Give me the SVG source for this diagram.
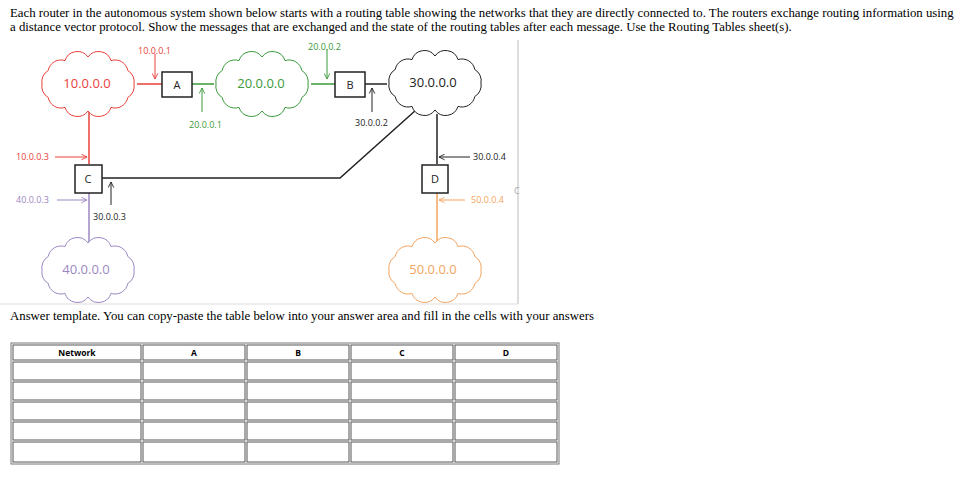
<svg xmlns="http://www.w3.org/2000/svg" width="966" height="489" viewBox="0 0 966 489">
<style>
.p{font-family:"Liberation Serif",serif;font-size:12.8px;fill:#000}
.l{font-family:"Open Sans","DejaVu Sans",sans-serif;font-size:9px}
.c{font-family:"Open Sans","DejaVu Sans",sans-serif;font-size:13px;text-anchor:middle}
.box{fill:#fff;stroke:#222;stroke-width:1.5}
.bt{font-family:"Open Sans","DejaVu Sans",sans-serif;font-size:11px;text-anchor:middle;fill:#222}
.cell{fill:none;stroke:#555;stroke-width:1}
.th{font-family:"Open Sans","DejaVu Sans",sans-serif;font-size:8.5px;font-weight:bold;text-anchor:middle}
</style>
<defs>
<path id="cloud" d="M4,30 A13,13 0 0 1 10.2,16.5 A13,13 0 0 1 27,6.6 A13,13 0 0 1 50,3 A13,13 0 0 1 73,6.6 A13,13 0 0 1 89.8,16.5 A13,13 0 0 1 96,30 A13,13 0 0 1 89.8,43.5 A13,13 0 0 1 73,53.4 A13,13 0 0 1 50,57 A13,13 0 0 1 27,53.4 A13,13 0 0 1 10.2,43.5 A13,13 0 0 1 4,30 Z" stroke-width="1"/>
<marker id="ar" viewBox="0 0 10 10" refX="9" refY="5" markerWidth="7" markerHeight="7" orient="auto"><path d="M1,1 L9,5 L1,9" fill="none" stroke="context-stroke" stroke-width="1.3"/></marker>
</defs>
<rect width="966" height="489" fill="#fff"/>
<text class="p" x="10" y="17">Each router in the autonomous system shown below starts with a routing table showing the networks that they are directly connected to. The routers exchange routing information using</text>
<text class="p" x="10" y="31">a distance vector protocol. Show the messages that are exchanged and the state of the routing tables after each message. Use the Routing Tables sheet(s).</text>
<line x1="518" y1="40" x2="518" y2="304" stroke="#bbb"/>
<line x1="0" y1="304" x2="518" y2="304" stroke="#ddd"/>
<text x="514" y="194" font-family="Open Sans,sans-serif" font-size="9" fill="#aaa">C</text>
<g id="connectors" fill="none" stroke-width="1.5">
<line x1="137" y1="84" x2="162" y2="84" stroke="#e8413a"/>
<line x1="89" y1="112" x2="89" y2="164" stroke="#e8413a"/>
<line x1="192" y1="84" x2="214" y2="84" stroke="#3a9a3a"/>
<line x1="311" y1="84" x2="335" y2="84" stroke="#3a9a3a"/>
<line x1="365" y1="84" x2="387" y2="84" stroke="#222"/>
<polyline points="102,178 340,178 416,110" stroke="#222"/>
<line x1="437" y1="114" x2="437" y2="164" stroke="#222"/>
<line x1="89" y1="193" x2="89" y2="244" stroke="#9b88c2"/>
<line x1="437" y1="193" x2="437" y2="244" stroke="#f4a460"/>
<g stroke-width="1" marker-end="url(#ar)">
<line x1="155" y1="54" x2="155" y2="79" stroke="#e8413a"/>
<line x1="202" y1="112" x2="202" y2="88" stroke="#3a9a3a"/>
<line x1="327" y1="49" x2="327" y2="79" stroke="#3a9a3a"/>
<line x1="372" y1="112" x2="372" y2="88" stroke="#222"/>
<line x1="55" y1="157" x2="87" y2="157" stroke="#e8413a"/>
<line x1="57" y1="200" x2="87" y2="200" stroke="#9b88c2"/>
<line x1="111" y1="205" x2="111" y2="182" stroke="#222"/>
<line x1="470" y1="157" x2="439" y2="157" stroke="#222"/>
<line x1="465" y1="200" x2="439" y2="200" stroke="#f4a460"/>
</g>
</g>
<g class="l">
<text x="138" y="54" fill="#e8413a">10.0.0.1</text>
<text x="189" y="128" fill="#3a9a3a">20.0.0.1</text>
<text x="308" y="50" fill="#3a9a3a">20.0.0.2</text>
<text x="355" y="126" fill="#222">30.0.0.2</text>
<text x="16" y="160" fill="#e8413a">10.0.0.3</text>
<text x="16" y="203" fill="#9b88c2">40.0.0.3</text>
<text x="93" y="220" fill="#222">30.0.0.3</text>
<text x="473" y="160" fill="#222">30.0.0.4</text>
<text x="471" y="203" fill="#f4a460">50.0.0.4</text>
</g>
<g id="n10"><use href="#cloud" transform="translate(38,54)" fill="#fff" stroke="#e8413a"/><text class="c" x="87" y="88" fill="#e8413a">10.0.0.0</text></g>
<g id="n20"><use href="#cloud" transform="translate(212,54)" fill="#fff" stroke="#3a9a3a"/><text class="c" x="261" y="88" fill="#3a9a3a">20.0.0.0</text></g>
<g id="n30"><use href="#cloud" transform="translate(385,53)" fill="#fff" stroke="#222"/><text class="c" x="433" y="87" fill="#222">30.0.0.0</text></g>
<g id="n40"><use href="#cloud" transform="translate(38,240)" fill="#fff" stroke="#9b88c2"/><text class="c" x="86" y="274" fill="#9b88c2">40.0.0.0</text></g>
<g id="n50"><use href="#cloud" transform="translate(385,240)" fill="#fff" stroke="#f4a460"/><text class="c" x="433" y="274" fill="#f4a460">50.0.0.0</text></g>
<g id="A"><rect class="box" x="162" y="72" width="30" height="25"/><text class="bt" x="177" y="89">A</text></g>
<g id="B"><rect class="box" x="335" y="72" width="30" height="25"/><text class="bt" x="350" y="89">B</text></g>
<g id="C"><rect class="box" x="75" y="165" width="27" height="28"/><text class="bt" x="88" y="183">C</text></g>
<g id="D"><rect class="box" x="422" y="165" width="26" height="28"/><text class="bt" x="435" y="183">D</text></g>
<text class="p" x="10" y="320">Answer template. You can copy-paste the table below into your answer area and fill in the cells with your answers</text>
<g id="table">
<rect x="11" y="343" width="548" height="121" fill="none" stroke="#777"/>
<g class="cell">
<rect x="13" y="345" width="128" height="15"/><rect x="143" y="345" width="102" height="15"/><rect x="247" y="345" width="102" height="15"/><rect x="351" y="345" width="102" height="15"/><rect x="455" y="345" width="102" height="15"/>
<rect x="13" y="362" width="128" height="18"/><rect x="143" y="362" width="102" height="18"/><rect x="247" y="362" width="102" height="18"/><rect x="351" y="362" width="102" height="18"/><rect x="455" y="362" width="102" height="18"/>
<rect x="13" y="382" width="128" height="18"/><rect x="143" y="382" width="102" height="18"/><rect x="247" y="382" width="102" height="18"/><rect x="351" y="382" width="102" height="18"/><rect x="455" y="382" width="102" height="18"/>
<rect x="13" y="402" width="128" height="18"/><rect x="143" y="402" width="102" height="18"/><rect x="247" y="402" width="102" height="18"/><rect x="351" y="402" width="102" height="18"/><rect x="455" y="402" width="102" height="18"/>
<rect x="13" y="422" width="128" height="18"/><rect x="143" y="422" width="102" height="18"/><rect x="247" y="422" width="102" height="18"/><rect x="351" y="422" width="102" height="18"/><rect x="455" y="422" width="102" height="18"/>
<rect x="13" y="442" width="128" height="20"/><rect x="143" y="442" width="102" height="20"/><rect x="247" y="442" width="102" height="20"/><rect x="351" y="442" width="102" height="20"/><rect x="455" y="442" width="102" height="20"/>
</g>
<text class="th" x="77" y="356">Network</text><text class="th" x="194" y="356">A</text><text class="th" x="298" y="356">B</text><text class="th" x="402" y="356">C</text><text class="th" x="506" y="356">D</text>
</g>
</svg>
